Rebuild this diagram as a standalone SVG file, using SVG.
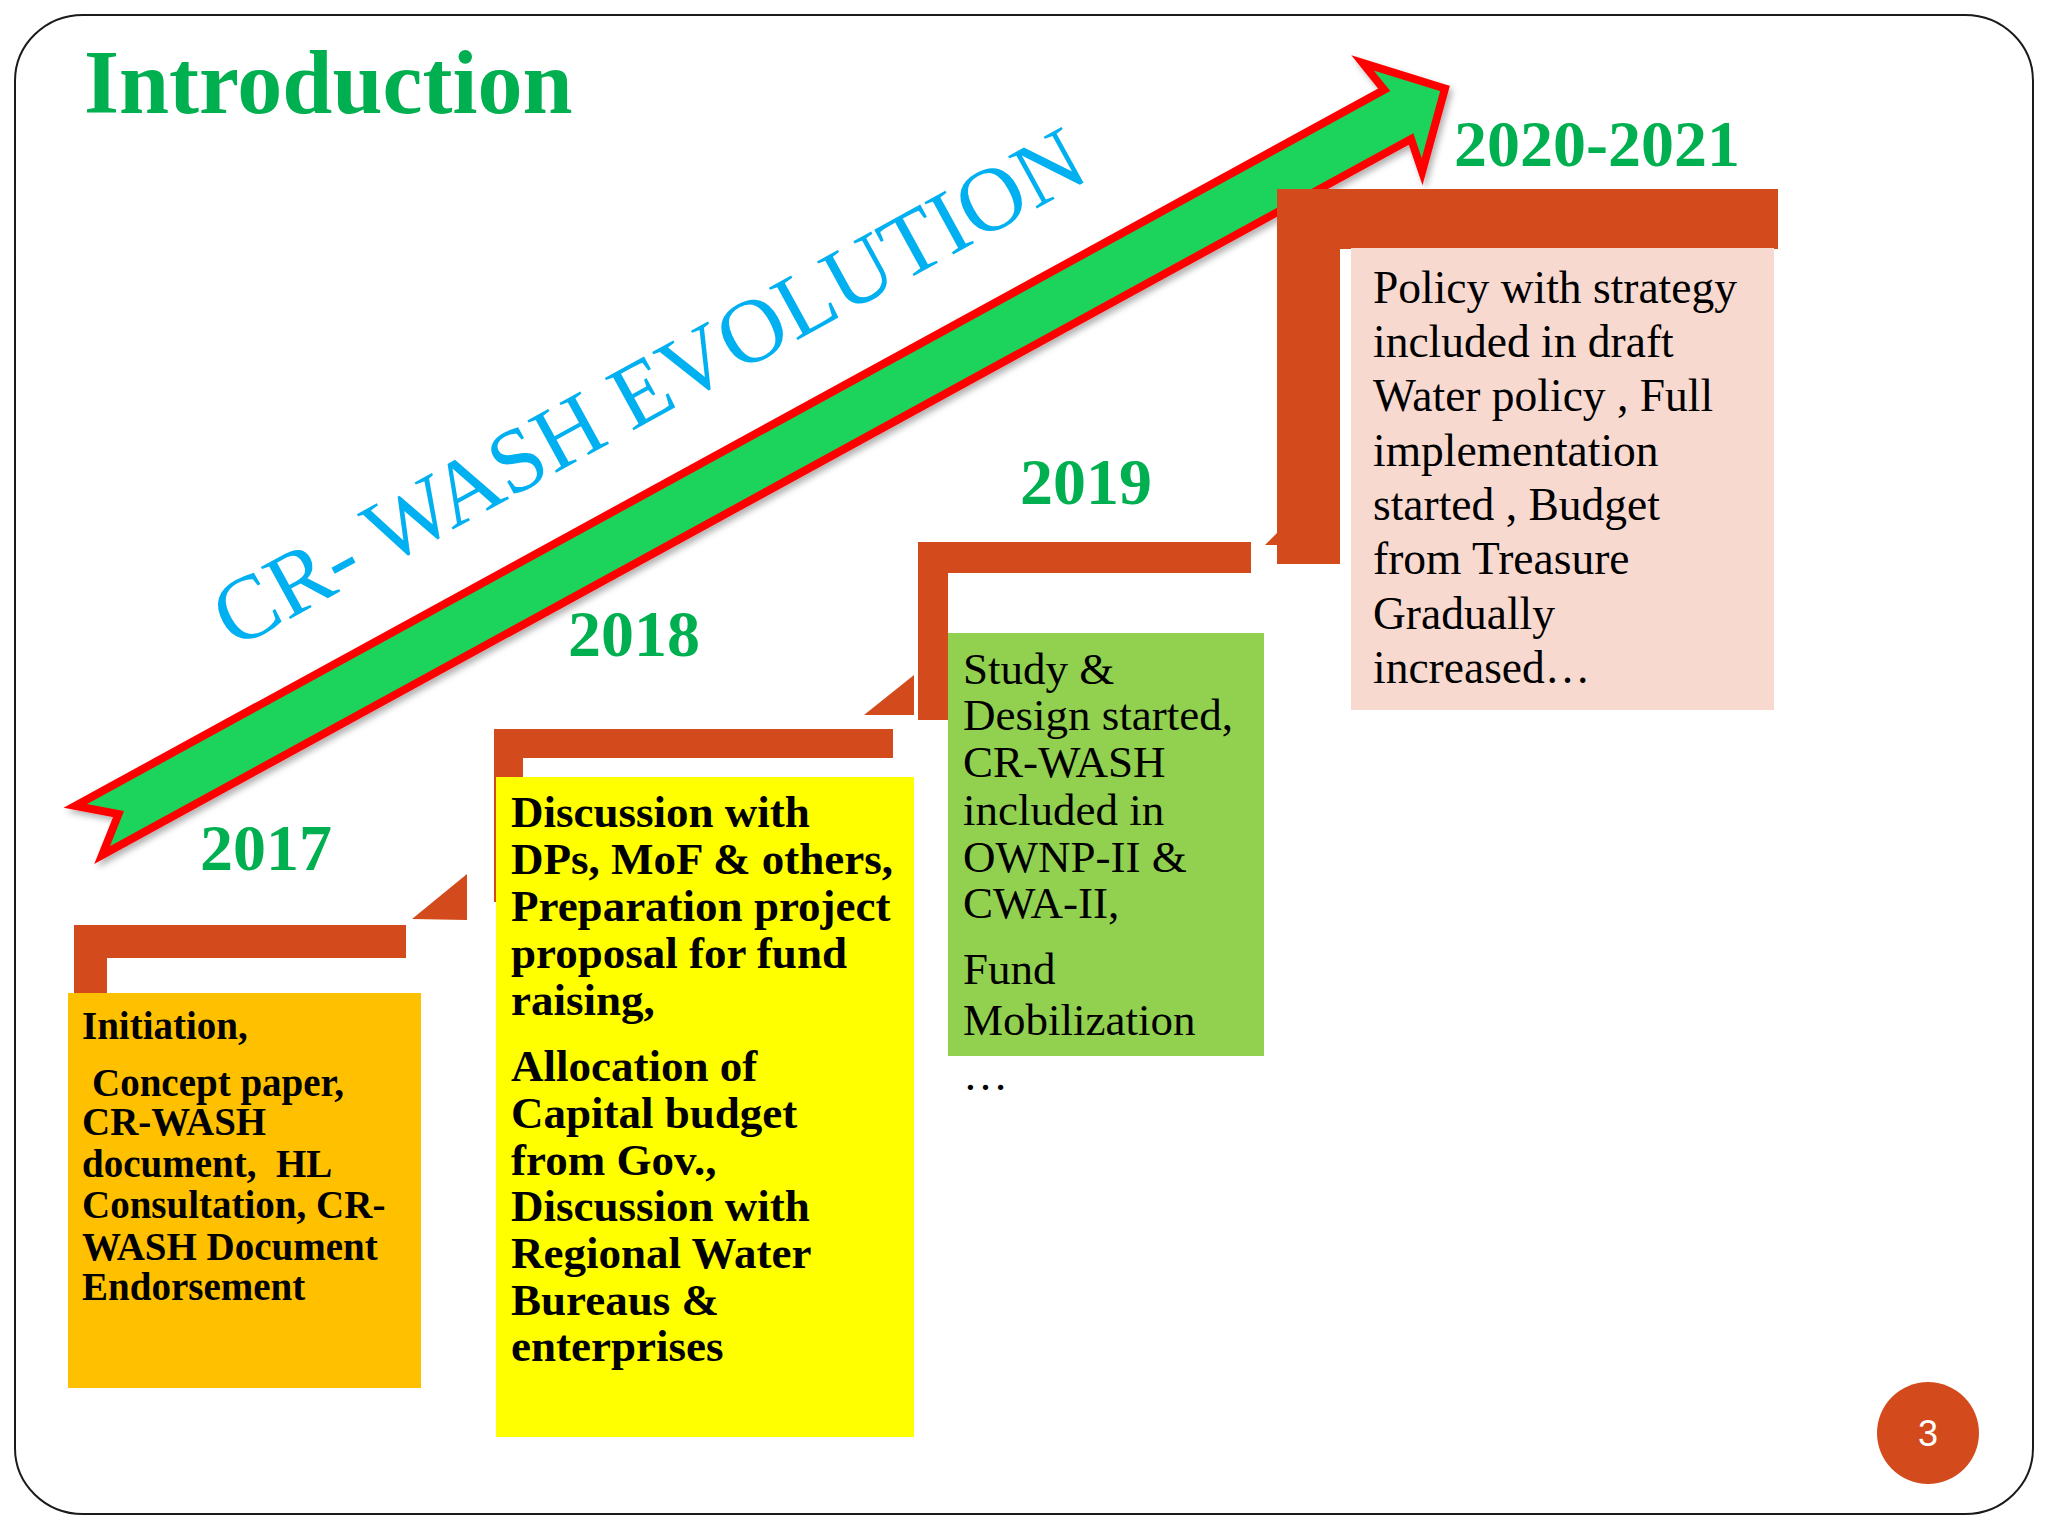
<svg xmlns="http://www.w3.org/2000/svg" width="2048" height="1536" viewBox="0 0 2048 1536">
  <style>
    .serif { font-family: "Liberation Serif", "Times New Roman", serif; }
    .year { font-family: "Liberation Serif", "Times New Roman", serif; font-weight: bold; font-size: 66px; fill: #00B050; }
    .boldtxt { font-family: "Liberation Serif", "Times New Roman", serif; font-weight: bold; fill: #000; }
    .regtxt { font-family: "Liberation Serif", "Times New Roman", serif; fill: #000; }
    .bar { fill: #D34B1C; }
  </style>
  <defs>
    <filter id="shadow" x="-5%" y="-5%" width="110%" height="115%">
      <feDropShadow dx="3" dy="4" stdDeviation="3" flood-color="#000" flood-opacity="0.3"/>
    </filter>
  </defs>
<rect x="0" y="0" width="2048" height="1536" fill="#FFFFFF"/>
<rect id="frame" x="15" y="15" width="2018" height="1499" rx="68" ry="66" fill="#FFFFFF" stroke="#1A1A1A" stroke-width="2"/>
<g id="title"><text x="84" y="113" class="serif" font-weight="bold" font-size="90" fill="#00B050">Introduction</text></g>
<g id="evolution-arrow" filter="url(#shadow)"><path transform="translate(1445,88.5) rotate(-28.68)" d="M0 0 L-60 -62 L-54 -28 L-1546 -28 L-1512 0 L-1546 28 L-54 28 L-60 62 Z" fill="#1FD35B" stroke="#FF0000" stroke-width="8" stroke-linejoin="miter"/></g>
<g id="evolution-label"><text transform="translate(663,414) rotate(-28.8)" text-anchor="middle" class="serif" font-size="91" fill="#00B0F0">CR- WASH EVOLUTION</text></g>
<g id="connectors">
<path class="bar" d="M74 925 H406 V958 H107 V993 H74 Z"/>
<path class="bar" d="M412 919 L467 874 L467 920 Z"/>
<path class="bar" d="M494 729 H893 V758 H523 V902 H494 Z"/>
<path class="bar" d="M864 715 L914 675 L914 715 Z"/>
<path class="bar" d="M918 542 H1251 V573 H948 V720 H918 Z"/>
<path class="bar" d="M1265 545 L1277 533 L1277 545 Z"/>
<path class="bar" d="M1277 189 H1778 V249 H1340 V564 H1277 Z"/>
</g>
<g id="step-2017">
<text x="200" y="870" class="year">2017</text>
<rect x="68" y="993" width="353" height="395" fill="#FFC000"/>
<text x="82" y="1039" class="boldtxt" font-size="39">Initiation,</text>
<text x="92" y="1096" class="boldtxt" font-size="39">Concept paper,</text>
<text x="82" y="1135" class="boldtxt" font-size="39">CR-WASH</text>
<text x="82" y="1177" class="boldtxt" font-size="39">document,&#160; HL</text>
<text x="82" y="1218" class="boldtxt" font-size="39">Consultation, CR-</text>
<text x="82" y="1260" class="boldtxt" font-size="39">WASH Document</text>
<text x="82" y="1300" class="boldtxt" font-size="39">Endorsement</text>
</g>
<g id="step-2018">
<text x="568" y="656" class="year">2018</text>
<rect x="496" y="777" width="418" height="660" fill="#FFFF00"/>
<text x="511" y="827" class="boldtxt" font-size="45">Discussion with</text>
<text x="511" y="874" class="boldtxt" font-size="45">DPs, MoF &amp; others,</text>
<text x="511" y="921" class="boldtxt" font-size="45">Preparation project</text>
<text x="511" y="968" class="boldtxt" font-size="45">proposal for fund</text>
<text x="511" y="1015" class="boldtxt" font-size="45">raising,</text>
<text x="511" y="1081" class="boldtxt" font-size="45">Allocation of</text>
<text x="511" y="1128" class="boldtxt" font-size="45">Capital budget</text>
<text x="511" y="1175" class="boldtxt" font-size="45">from Gov.,</text>
<text x="511" y="1221" class="boldtxt" font-size="45">Discussion with</text>
<text x="511" y="1268" class="boldtxt" font-size="45">Regional Water</text>
<text x="511" y="1315" class="boldtxt" font-size="45">Bureaus &amp;</text>
<text x="511" y="1361" class="boldtxt" font-size="45">enterprises</text>
</g>
<g id="step-2019">
<text x="1020" y="504" class="year">2019</text>
<rect x="948" y="633" width="316" height="423" fill="#92D050"/>
<text x="963" y="684" class="regtxt" font-size="45">Study &amp;</text>
<text x="963" y="730" class="regtxt" font-size="45">Design started,</text>
<text x="963" y="777" class="regtxt" font-size="45">CR-WASH</text>
<text x="963" y="825" class="regtxt" font-size="45">included in</text>
<text x="963" y="872" class="regtxt" font-size="45">OWNP-II &amp;</text>
<text x="963" y="918" class="regtxt" font-size="45">CWA-II,</text>
<text x="963" y="984" class="regtxt" font-size="45">Fund</text>
<text x="963" y="1035" class="regtxt" font-size="45">Mobilization</text>
<text x="963" y="1090" class="regtxt" font-size="45">…</text>
</g>
<g id="step-2020-2021">
<text x="1454" y="166" class="year">2020-2021</text>
<rect x="1351" y="248" width="423" height="462" fill="#F8D9CF"/>
<text x="1373" y="303" class="regtxt" font-size="45.5">Policy with strategy</text>
<text x="1373" y="357" class="regtxt" font-size="45.5">included in draft</text>
<text x="1373" y="411" class="regtxt" font-size="45.5">Water policy , Full</text>
<text x="1373" y="466" class="regtxt" font-size="45.5">implementation</text>
<text x="1373" y="520" class="regtxt" font-size="45.5">started , Budget</text>
<text x="1373" y="574" class="regtxt" font-size="45.5">from Treasure</text>
<text x="1373" y="629" class="regtxt" font-size="45.5">Gradually</text>
<text x="1373" y="683" class="regtxt" font-size="45.5">increased…</text>
</g>
<g id="page-number">
<circle cx="1928" cy="1433" r="51" fill="#D34B1C"/>
<text x="1928" y="1446" text-anchor="middle" font-family="'Liberation Sans', Arial, sans-serif" font-size="36" fill="#FFFFFF">3</text>
</g>
</svg>
